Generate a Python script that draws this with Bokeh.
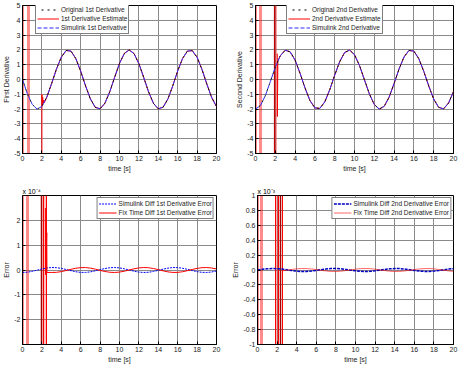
from bokeh.plotting import figure
from bokeh.layouts import column, row
from bokeh.models import Legend, LegendItem, FixedTicker
from bokeh.embed import file_html
from bokeh.resources import INLINE

FONT = "Liberation Sans"

# ---------------- data ----------------
t = [0.0, 0.5, 1.0, 1.5, 2.0, 2.5, 3.0, 3.5, 4.0, 4.5, 5.0, 5.5, 6.0, 6.5, 7.0,
     7.5, 8.0, 8.5, 9.0, 9.5, 10.0, 10.5, 11.0, 11.5, 12.0, 12.5, 13.0, 13.5,
     14.0, 14.5, 15.0, 15.5, 16.0, 16.5, 17.0, 17.5, 18.0, 18.5, 19.0, 19.5, 20.0]

# first derivative (original / simulink curves coincide)
first_deriv = [0.00, -0.96, -1.68, -2.00, -1.82, -1.20, -0.28, 0.70, 1.51, 1.96,
               1.92, 1.41, 0.56, -0.43, -1.31, -1.88, -1.98, -1.60, -0.82, 0.15,
               1.09, 1.76, 2.00, 1.75, 1.07, 0.13, -0.84, -1.61, -1.98, -1.87,
               -1.30, -0.41, 0.58, 1.42, 1.92, 1.95, 1.50, 0.69, -0.30, -1.21, -1.83]

# second derivative
second_deriv = [-2.00, -1.76, -1.08, -0.14, 0.83, 1.60, 1.98, 1.87, 1.31, 0.42,
                -0.57, -1.42, -1.92, -1.95, -1.51, -0.69, 0.29, 1.20, 1.82, 1.99,
                1.68, 0.95, -0.01, -0.97, -1.69, -2.00, -1.81, -1.19, -0.27, 0.71,
                1.52, 1.96, 1.92, 1.40, 0.55, -0.44, -1.32, -1.88, -1.98, -1.59, -0.82]

# 1st derivative estimate: transient part, then follows the curve from t=2.5
est1_pale_t = [0.0, 0.6]
est1_start_t = [2.0, 2.0, 2.03, 2.08, 2.12, 2.18, 2.25]
est1_start_v = [-50.0, -1.0, -1.8, -1.2, -1.6, -1.4, -1.56]

# 2nd derivative estimate
est2_pale_t = [0.0, 0.5, 2.02]
est2_sharp_t = [1.9]
est2_start_t = [2.2, 2.21, 2.26]
est2_start_v = [1.75, -2.5, 1.27]

# error plots (units: x1e-4 and x1e-3)
sim_err1 = [-0.100, -0.088, -0.054, -0.007, 0.042, 0.080, 0.099, 0.094, 0.065, 0.021,
            -0.028, -0.071, -0.096, -0.098, -0.075, -0.035, 0.015, 0.060, 0.091, 0.100,
            0.084, 0.048, 0.000, -0.048, -0.084, -0.100, -0.091, -0.059, -0.014, 0.035,
            0.076, 0.098, 0.096, 0.070, 0.028, -0.022, -0.066, -0.094, -0.099, -0.080, -0.041]
fix_err1_t0 = [2.36, 2.38, 2.5, 2.52]
fix_err1_v0 = [2.5, -0.2, 1.5, -0.1]
fix_err1 = [-0.099, -0.094, -0.065, -0.021, 0.028, 0.071, 0.096, 0.098, 0.075, 0.035,
            -0.015, -0.060, -0.091, -0.100, -0.084, -0.048, 0.000, 0.048, 0.084, 0.100,
            0.091, 0.059, 0.014, -0.035, -0.076, -0.098, -0.096, -0.070, -0.028, 0.022,
            0.066, 0.094, 0.099, 0.080, 0.041]          # t = 3.0 .. 20.0
err1_pale_t = [0.0, 0.55, 2.22]
err1_sharp_t = [2.17, 2.46]
err1_dark_t = [1.97]

sim_err2 = [0.000, 0.010, 0.017, 0.020, 0.018, 0.012, 0.003, -0.007, -0.015, -0.020,
            -0.019, -0.014, -0.006, 0.004, 0.013, 0.019, 0.020, 0.016, 0.008, -0.002,
            -0.011, -0.018, -0.020, -0.018, -0.011, -0.001, 0.008, 0.016, 0.020, 0.019,
            0.013, 0.004, -0.006, -0.014, -0.019, -0.020, -0.015, -0.007, 0.003, 0.012, 0.018]
fix_err2 = [-0.012, -0.003, 0.007, 0.015, 0.020, 0.019, 0.014, 0.006, -0.004, -0.013,
            -0.019, -0.020, -0.016, -0.008, 0.002, 0.011, 0.018, 0.020, 0.018, 0.011,
            0.001, -0.008, -0.016, -0.020, -0.019, -0.013, -0.004, 0.006, 0.014, 0.019,
            0.020, 0.015, 0.007, -0.003, -0.012, -0.018]    # t = 2.5 .. 20.0
err2_pale_t = [0.0, 0.45, 2.03]
err2_sharp_t = [1.88, 2.18, 2.5]
err2_dark_t = [2.35]

x_ticks = [0, 2, 4, 6, 8, 10, 12, 14, 16, 18, 20]
y_ticks_deriv = [-5, -4, -3, -2, -1, 0, 1, 2, 3, 4, 5]
y_ticks_err1 = [-2, -1, 0, 1, 2]
y_ticks_err2 = [-1, -0.8, -0.6, -0.4, -0.2, 0, 0.2, 0.4, 0.6, 0.8, 1]


def fmt(v):
    return "%g" % v


def make_fig(width, height, yr, yticks, ylabel, mb_left, mb_right, mb_top, mb_bottom,
             exponent=None):
    p = figure(width=width, height=height, x_range=(0, 20), y_range=yr,
               output_backend="svg", toolbar_location=None,
               min_border_left=mb_left, min_border_right=mb_right,
               min_border_top=mb_top, min_border_bottom=mb_bottom)
    if exponent:
        p.title.text = exponent
        p.title.align = "left"
        p.title.offset = 0
        p.title.standoff = 1
        p.title.text_font = FONT
        p.title.text_font_size = "7px"
        p.title.text_font_style = "normal"
        p.title.text_color = "black"
    p.xaxis.ticker = FixedTicker(ticks=x_ticks)
    p.yaxis.ticker = FixedTicker(ticks=yticks)
    p.xgrid.ticker = FixedTicker(ticks=x_ticks)
    p.ygrid.ticker = FixedTicker(ticks=yticks)
    p.xaxis.major_label_overrides = {v: fmt(v) for v in x_ticks}
    p.yaxis.major_label_overrides = {v: fmt(v) for v in yticks}
    p.xaxis.axis_label = "time [s]"
    p.yaxis.axis_label = ylabel
    for ax in (p.xaxis[0], p.yaxis[0]):
        ax.major_label_text_font = FONT
        ax.major_label_text_font_size = "7px"
        ax.major_label_text_color = "#222222"
        ax.axis_label_text_font = FONT
        ax.axis_label_text_font_size = "7px"
        ax.axis_label_text_font_style = "normal"
        ax.axis_label_text_color = "#222222"
        ax.major_tick_in = 3
        ax.major_tick_out = 0
        ax.minor_tick_line_color = None
        ax.major_label_standoff = 2
        ax.axis_label_standoff = 1
        ax.axis_line_color = "black"
        ax.major_tick_line_color = "black"
    for g in (p.xgrid[0], p.ygrid[0]):
        g.grid_line_color = "#8a8a8a"
        g.grid_line_width = 1
    p.outline_line_color = "black"
    p.outline_line_alpha = 1
    p.background_fill_color = "white"
    p.border_fill_color = "white"
    return p


def style_legend(lg):
    lg.label_text_font = FONT
    lg.label_text_font_size = "6.5px"
    lg.label_text_color = "#222222"
    lg.label_height = 9
    lg.glyph_height = 9
    lg.label_standoff = 2
    lg.padding = 1
    lg.spacing = 0
    lg.margin = 2
    lg.border_line_color = "black"
    lg.border_line_width = 1
    lg.background_fill_alpha = 1


def deriv_lines(p, x, y):
    r_orig = p.line(x, y, line_color="black", line_width=1, line_dash="2 4",
                    line_dash_offset=2)
    r_sim = p.line(x, y, line_color="#2a2aff", line_width=1, line_dash="4 2")
    return r_orig, r_sim


# ---------------- Top-left ----------------
p1 = make_fig(229, 174, (-5, 5), y_ticks_deriv, "First Derivative", 18, 13, 5, 20)
p1.vspan(x=est1_pale_t, line_color="red", line_width=3, line_alpha=0.45)
r1_est = p1.line(est1_start_t + t[5:], est1_start_v + first_deriv[5:],
                 line_color="red", line_width=1)
r1_orig, r1_sim = deriv_lines(p1, t, first_deriv)
lg1 = Legend(items=[LegendItem(label="Original 1st Derivative", renderers=[r1_orig]),
                    LegendItem(label="1st Derivative Estimate", renderers=[r1_est]),
                    LegendItem(label="Simulink 1st Derivative", renderers=[r1_sim])],
             location=(13, 119))
style_legend(lg1)
lg1.glyph_width = 22
p1.add_layout(lg1)

# ---------------- Top-right ----------------
p2 = make_fig(229, 174, (-5, 5), y_ticks_deriv, "Second Derivative", 26, 5, 5, 20)
p2.vspan(x=est2_pale_t[:2], line_color="red", line_width=3, line_alpha=0.45)
p2.vspan(x=est2_pale_t[2:], line_color="red", line_width=3, line_alpha=0.35)
p2.vspan(x=est2_sharp_t, line_color="#c00000", line_width=1.2)
r2_est = p2.line(est2_start_t + t[5:], est2_start_v + second_deriv[5:],
                 line_color="red", line_width=1)
r2_orig, r2_sim = deriv_lines(p2, t, second_deriv)
lg2 = Legend(items=[LegendItem(label="Original 2nd Derivative", renderers=[r2_orig]),
                    LegendItem(label="2nd Derivative Estimate", renderers=[r2_est]),
                    LegendItem(label="Simulink 2nd Derivative", renderers=[r2_sim])],
             location=(31, 119))
style_legend(lg2)
lg2.glyph_width = 22
p2.add_layout(lg2)

# ---------------- Bottom-left ----------------
p3 = make_fig(229, 191, (-3, 3), y_ticks_err1, "Error", 18, 13, 21, 20,
              exponent="x 10\u207b\u2074")
p3.vspan(x=err1_pale_t[:2], line_color="red", line_width=3, line_alpha=0.45)
p3.vspan(x=err1_pale_t[2:], line_color="red", line_width=4, line_alpha=0.25)
p3.vspan(x=err1_sharp_t, line_color="red", line_width=1)
p3.vspan(x=err1_dark_t, line_color="#a00000", line_width=1.5)
r3_sim = p3.line(t, sim_err1, line_color="blue", line_width=1, line_dash="2 1")
r3_fix = p3.line(fix_err1_t0 + t[6:], fix_err1_v0 + fix_err1,
                 line_color="red", line_width=1)
lg3 = Legend(items=[LegendItem(label="Simulink Diff 1st Derivative Error", renderers=[r3_sim]),
                    LegendItem(label="Fix Time Diff 1st Derivative Error", renderers=[r3_fix])],
             location="top_right")
style_legend(lg3)
lg3.glyph_width = 18
p3.add_layout(lg3)

# ---------------- Bottom-right ----------------
p4 = make_fig(229, 191, (-1, 1), y_ticks_err2, "Error", 26, 5, 21, 20,
              exponent="x 10\u207b\u00b3")
p4.vspan(x=err2_pale_t[:2], line_color="red", line_width=3, line_alpha=0.45)
p4.vspan(x=err2_pale_t[2:], line_color="red", line_width=3, line_alpha=0.3)
p4.vspan(x=err2_sharp_t, line_color="red", line_width=1)
p4.vspan(x=err2_dark_t, line_color="#a00000", line_width=1.5)
r4_sim = p4.line(t, sim_err2, line_color="#0000c0", line_width=1.5, line_dash="3 1")
r4_fix = p4.line(t[5:], fix_err2, line_color="red", line_width=1, line_alpha=0.6)
lg4 = Legend(items=[LegendItem(label="Simulink Diff 2nd Derivative Error", renderers=[r4_sim]),
                    LegendItem(label="Fix Time Diff 2nd Derivative Error", renderers=[r4_fix])],
             location="top_right")
style_legend(lg4)
lg4.glyph_width = 18
p4.add_layout(lg4)

layout = column(row(p1, p2), row(p3, p4))
open("out.html", "w").write(file_html(layout, INLINE))
